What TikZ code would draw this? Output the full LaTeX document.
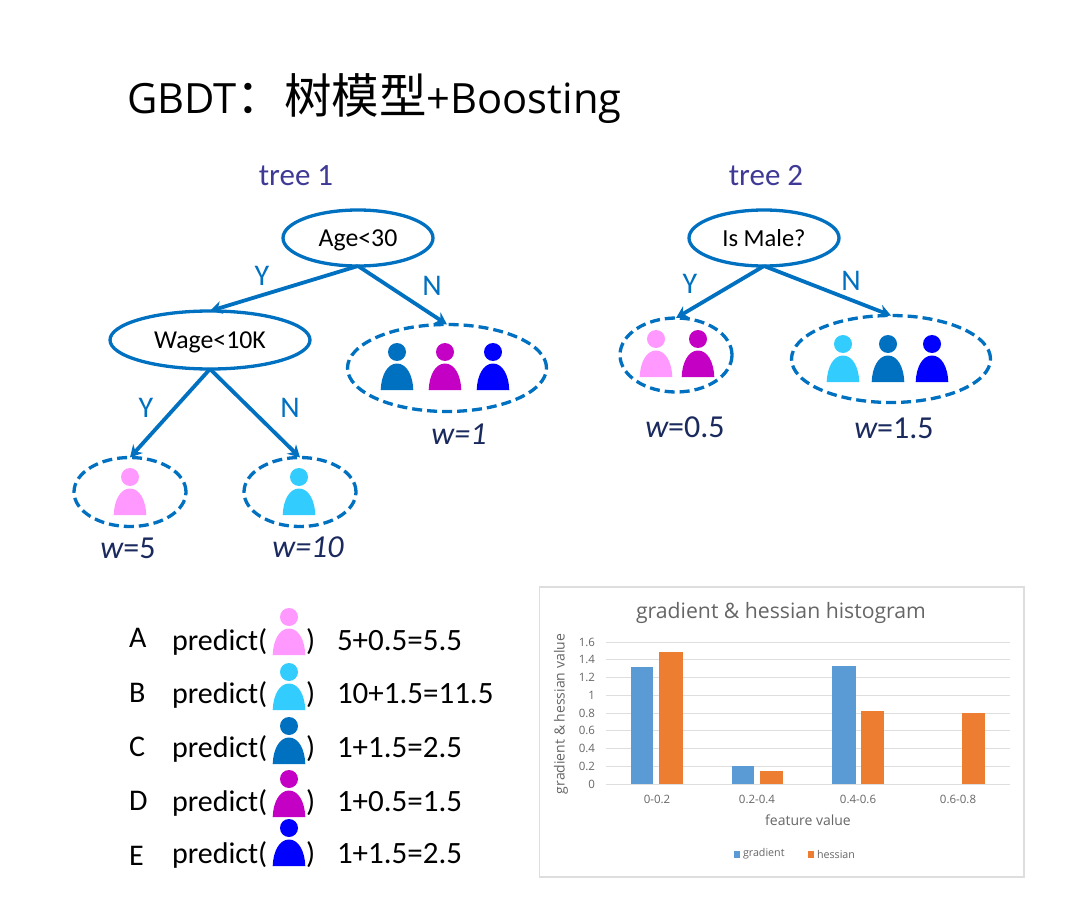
\documentclass[tikz,border=0pt]{standalone}
\usepackage{fontspec}
\setmainfont{Carlito}
\newfontfamily\ttlfont{Open Sans}
\newfontfamily\cjkf[Script=CJK,Language=Chinese Simplified]{Noto Sans CJK SC}
\usetikzlibrary{shapes.geometric,arrows.meta}
\definecolor{tblue}{HTML}{0070C0}
\definecolor{ttl}{HTML}{3F3A96}
\definecolor{wcol}{HTML}{1B2A5E}
\definecolor{ppink}{HTML}{FF99FF}
\definecolor{pcyan}{HTML}{33CCFF}
\definecolor{pmag}{HTML}{C400C4}
\definecolor{pblue}{HTML}{0000FF}
\definecolor{cblue}{HTML}{5B9BD5}
\definecolor{corange}{HTML}{ED7D31}
\definecolor{cgrid}{HTML}{DEDEDE}
\definecolor{ctxt}{HTML}{666666}
\newcommand{\fs}[1]{\fontsize{#1}{#1}\selectfont}
\tikzset{
  x=1pt,y=-1pt,
  every node/.style={inner sep=0pt,outer sep=0pt},
  splitnode/.style={ellipse,draw=tblue,line width=3.3pt,fill=white,text depth=0pt,font=\fs{25.8}},
  leafnode/.style={ellipse,draw=tblue,line width=3.3pt,dash pattern=on 10pt off 5pt},
  edgeline/.style={draw=tblue,line width=3.8pt,-{Stealth[length=12pt,width=13pt]}},
  edgelab/.style={text=tblue,font=\fs{30}},
  treetitle/.style={text=ttl,font=\fs{31}},
  weightlab/.style={text=wcol,font=\fs{32}},
  rowtxt/.style={anchor=base west,font=\fs{30}},
  restxt/.style={anchor=base west,font=\fs{31}},
  tick/.style={text=ctxt},
  gridl/.style={draw=cgrid,line width=1pt},
  person/.pic={
    \fill[pic actions] (0,0) circle[radius=9];
    \fill[pic actions] (-16.3,38) .. controls (-15.8,23) and (-9.5,11.5) .. (0,11.5)
      .. controls (9.5,11.5) and (15.8,23) .. (16.3,38) -- cycle;
  }
}
\begin{document}
\begin{tikzpicture}
\useasboundingbox[fill=white] (0,0) rectangle (1080,923);

\node[anchor=base west] (title) at (127,114) {\fs{41.7}\ttlfont GBDT\fs{47.5}\cjkf：树模型\fs{41.7}\ttlfont +Boosting};

% tree 1
\node[treetitle] (t1) at (296,176) {tree 1};
\node[splitnode,minimum width=150pt,minimum height=56pt] (age) at (358,238) {Age<30};
\node[splitnode,minimum width=200pt,minimum height=58pt] (wage) at (210,340) {Wage<10K};
\node[leafnode,minimum width=199pt,minimum height=87pt] (l3) at (447,368) {};
\node[leafnode,minimum width=112pt,minimum height=69pt] (l1) at (130,492) {};
\node[leafnode,minimum width=112pt,minimum height=69pt] (l2) at (300,492) {};
\draw[edgeline] (age.south) -- (wage.north);
\draw[edgeline] (age.south) -- (l3.north);
\draw[edgeline] (wage.south) -- (l1.north);
\draw[edgeline] (wage.south) -- (l2.north);
\node[edgelab] (y1) at (262,276) {Y};
\node[edgelab] (n1) at (432,286) {N};
\node[edgelab] (y2) at (146,408) {Y};
\node[edgelab] (n2) at (290,408) {N};
\pic[fill=tblue] at (397,352) {person};
\pic[fill=pmag] at (445,352) {person};
\pic[fill=pblue] at (493,352) {person};
\pic[fill=ppink] at (130,477) {person};
\pic[fill=pcyan] at (299,477) {person};
\node[weightlab] (w1) at (459,434) {\itshape w=1};
\node[weightlab] (w5) at (128,548) {\itshape w\upshape =5};
\node[weightlab] (w10) at (308,547) {\itshape w=10};

% tree 2
\node[treetitle] (t2) at (766,176) {tree 2};
\node[splitnode,font=\fs{24.5},minimum width=150pt,minimum height=56pt] (male) at (764,238) {Is Male?};
\node[leafnode,minimum width=112pt,minimum height=74pt] (r1) at (676,355) {};
\node[leafnode,minimum width=199pt,minimum height=87pt] (r2) at (891,359) {};
\draw[edgeline] (male.south) -- (r1.north);
\draw[edgeline] (male.south) -- (r2.north);
\node[edgelab] (y3) at (690,284) {Y};
\node[edgelab] (n3) at (851,281) {N};
\pic[fill=ppink] at (656,339) {person};
\pic[fill=pmag] at (698,339) {person};
\pic[fill=pcyan] at (843,344) {person};
\pic[fill=tblue] at (888,344) {person};
\pic[fill=pblue] at (932,344) {person};
\node[weightlab] (w05) at (685,427) {\itshape w\upshape =0.5};
\node[weightlab] (w15) at (894,428) {\itshape w\upshape =1.5};

% predictions
\foreach \nm/\lab/\by/\head/\col/\res/\ly in {
  A/A/650/617/ppink/5+0.5=5.5/647,
  B/B/703/672/pcyan/10+1.5=11.5/702,
  C/C/757/726/tblue/1+1.5=2.5/756,
  D/D/811/779/pmag/1+0.5=1.5/810,
  E/E/863/828/pblue/1+1.5=2.5/865}{
  \node[rowtxt] (lab\nm) at (129,\ly) {\lab};
  \node[rowtxt] (pre\nm) at (172,\by) {predict(};
  \node[rowtxt] (clo\nm) at (306,\by) {)};
  \node[restxt] (res\nm) at (337,\by) {\res};
  \pic[fill=\col] at (289,\head) {person};
}

% chart
\draw[draw=cgrid,line width=1.2pt] (539.5,587) rectangle (1024,877);
\node[text=ctxt,font=\fs{21.2}] (ctitle) at (781,613) {\ttlfont gradient \& hessian histogram};
\foreach \v/\t in {0/0,0.2/0.2,0.4/0.4,0.6/0.6,0.8/0.8,1/1,1.2/1.2,1.4/1.4,1.6/1.6}{
  \draw[gridl] (606,{784-88.75*\v}) -- (1010,{784-88.75*\v});
  \node[tick,anchor=east] at (595,{784-88.75*\v}) {\ttlfont\fs{11.5}\t};
}
\fill[cblue] (631,784) rectangle (653,667);
\fill[corange] (659,784) rectangle (683,652);
\fill[cblue] (732,784) rectangle (754,766);
\fill[corange] (760,784) rectangle (783,771);
\fill[cblue] (832,784) rectangle (856,666);
\fill[corange] (861,784) rectangle (884,711);
\fill[corange] (962,784) rectangle (985,713);
\foreach \x/\t in {657/0-0.2,757/0.2-0.4,858/0.4-0.6,958/0.6-0.8}{
  \node[tick] at (\x,799) {\ttlfont\fs{11.5}\t};
}
\node[tick] (xlab) at (808,820) {\ttlfont\fs{14}feature value};
\node[tick,rotate=90] (ylab) at (561,714) {\ttlfont\fs{14}gradient \& hessian value};
\fill[cblue] (734,851) rectangle (740,858);
\node[tick,anchor=west] (lg) at (743,854) {\ttlfont\fs{10.7}gradient};
\fill[corange] (808,851) rectangle (814,858);
\node[tick,anchor=west] (lh) at (817,854) {\ttlfont\fs{10.7}hessian};
\end{tikzpicture}
\end{document}
